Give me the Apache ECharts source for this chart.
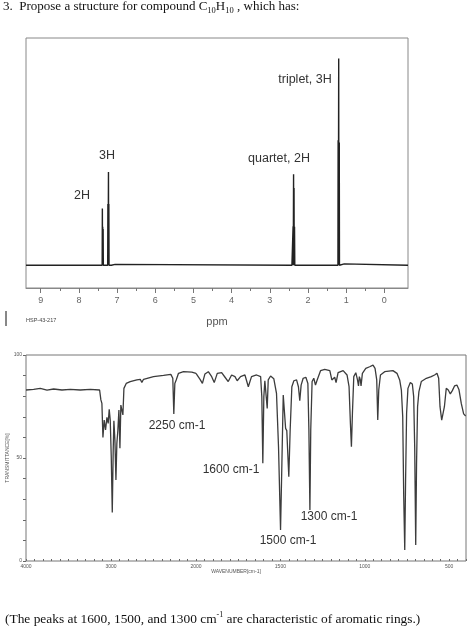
<!DOCTYPE html>
<html><head><meta charset="utf-8">
<script src="https://cdn.jsdelivr.net/npm/echarts@6/dist/echarts.min.js"></script>
<style>html,body{margin:0;padding:0;background:#fff}#c{width:474px;height:640px}</style>
</head><body><div id="c"></div>
<script>
// ---------- 1H NMR data ----------
const nmrPpm = [9.385, 7.45, 7.39, 7.385, 7.38, 7.375, 7.37, 7.365, 7.36, 7.33, 7.30, 7.245, 7.24, 7.235, 7.225, 7.22, 7.215, 7.21, 7.18, 7.15, 7.05, 7.0,
  2.42, 2.395, 2.39, 2.385, 2.377, 2.372, 2.365, 2.36, 2.352, 2.345, 2.30, 1.40, 1.38, 1.36, 1.215, 1.21, 1.205, 1.195, 1.19, 1.18, 1.175, 1.05, 1.0, -0.62];
const nmrIntensity = [0, 0, 0, 25, 0, 17, 0, 16, 0, 0.8, 0, 0, 27, 0, 41, 0, 27, 0, 0.7, 0, 0.4, 0,
  0, 0, 17, 0, 40, 0, 34, 0, 17, 0, 0, 0, 0.8, 0, 0, 55, 0, 91, 0, 54, 0, 0.6, 0, 0];
const nmrTicks = [9, 8, 7, 6, 5, 4, 3, 2, 1, 0];
const nmrMinorTicks = [8.5, 7.5, 6.5, 5.5, 4.5, 3.5, 2.5, 1.5, 0.5];

// ---------- IR data ----------
const irWavenumber = [4000, 3910, 3832, 3753, 3675, 3577, 3479, 3362, 3244, 3134, 3119, 3107, 3095, 3080, 3064, 3048, 3033, 3021, 3009, 2997, 2985, 2974, 2966, 2954, 2942, 2931, 2919, 2907, 2895, 2884, 2872, 2860, 2848, 2821, 2774, 2696, 2656, 2637, 2617, 2500, 2382, 2296, 2273, 2261, 2249, 2233, 2206, 2147, 2049, 2000,
  1976, 1962, 1947, 1927, 1907, 1892, 1874, 1848, 1828, 1809, 1789, 1769, 1756, 1736, 1710, 1690, 1671, 1641, 1617, 1610, 1604, 1598, 1592, 1584, 1578, 1572, 1558, 1539, 1523, 1511, 1499, 1491, 1483, 1477, 1469, 1462, 1456, 1450, 1442, 1432, 1420, 1404, 1393, 1385, 1377, 1365, 1349, 1337, 1331, 1325, 1320, 1312, 1302, 1292, 1282, 1262, 1237, 1207, 1195, 1187, 1178, 1170, 1158, 1128, 1105, 1093, 1085, 1079, 1073, 1065, 1053, 1043, 1037, 1032, 1026, 1022, 1014, 994, 971, 951, 939, 929, 923, 917, 907, 882, 833, 809, 793, 783, 775, 769, 763, 758, 752, 744, 730, 718, 710, 704, 698, 693, 687, 679, 665, 635, 606, 586, 572, 562, 554, 544, 536, 528, 517, 505, 493, 481, 468, 454, 442, 428, 414, 402];
const irTransmittance = [83.0, 83.3, 83.8, 83.0, 83.5, 83.0, 83.3, 83.0, 83.3, 83.0, 78.2, 76.5, 60.0, 68.4, 63.6, 69.7, 66.8, 73.6, 68.4, 50.6, 23.5, 53.9, 68.1, 58.7, 39.3, 57.1, 63.6, 73.3, 54.7, 75.7, 76.2, 70.9, 83.8, 86.2, 87.1, 87.9, 88.2, 86.7, 88.2, 89.5, 90.1, 90.6, 88.7, 71.4, 86.2, 87.9, 91.1, 91.9, 91.7, 91.1,
  88.2, 86.2, 90.8, 91.9, 89.5, 86.6, 91.1, 91.4, 89.2, 87.1, 90.3, 89.5, 87.5, 89.5, 90.3, 84.6, 89.5, 90.3, 89.5, 79.8, 47.4, 79.8, 87.5, 87.9, 74.1, 87.9, 89.8, 88.5, 81.4, 55.5, 15.0, 47.4, 80.6, 81.4, 64.4, 63.3, 63.6, 40.9, 63.6, 84.6, 87.5, 87.9, 84.6, 77.8, 85.4, 88.7, 89.2, 86.2, 63.6, 24.8, 63.6, 87.1, 88.7, 85.4, 87.9, 92.4, 93.0, 92.4, 87.9, 88.7, 89.2, 86.6, 91.4, 92.4, 90.3, 84.6, 66.8, 55.5, 71.7, 89.5, 91.4, 87.9, 85.0, 89.5, 87.9, 85.0, 91.1, 93.5, 94.3, 95.1, 93.5, 87.9, 68.4, 83.0, 90.3, 91.9, 92.4, 91.1, 87.9, 83.0, 70.1, 31.2, 5.3, 39.3, 71.7, 83.8, 86.6, 85.9, 79.8, 55.5, 7.8, 47.4, 74.9, 82.2, 87.1, 88.7, 89.5, 90.3, 91.1, 88.7, 74.9, 68.4, 69.3, 74.9, 83.8, 83.0, 81.1, 82.7, 85.0, 85.4, 83.3, 76.5, 71.4, 70.4];
const irHighTicks = [4000, 3900, 3800, 3700, 3600, 3500, 3400, 3300, 3200, 3100, 3000, 2900, 2800, 2700, 2600, 2500, 2400, 2300, 2200, 2100, 2000];
const irHighLabels = [4000, 3000, 2000];
const irLowTicks = [2000, 1950, 1900, 1850, 1800, 1750, 1700, 1650, 1600, 1550, 1500, 1450, 1400, 1350, 1300, 1250, 1200, 1150, 1100, 1050, 1000, 950, 900, 850, 800, 750, 700, 650, 600, 550, 500, 450, 400];
const irLowLabels = [1500, 1000, 500];
const irYLabels = [0, 50, 100];

// build series data
const nmrData = nmrPpm.map((p, i) => [p, nmrIntensity[i]]);
const irHigh = [], irLow = [];
irWavenumber.forEach((w, i) => {
  if (w >= 2000) irHigh.push([w, irTransmittance[i]]);
  if (w <= 2000) irLow.push([w, irTransmittance[i]]);
});

const chart = echarts.init(document.getElementById('c'), null, {renderer: 'canvas'});
const sans = '"Liberation Sans", Arial, sans-serif';
const serif = '"Liberation Serif", "Times New Roman", serif';
const plain = v => String(v);
const tinyLabel = {fontSize: 5, color: '#555', fontFamily: sans, formatter: plain};

chart.setOption({
  backgroundColor: '#fff',
  animation: false,
  title: [
    {
      left: 3, top: -1, padding: 0,
      text: '{a|3.  Propose a structure for compound C}{s|10}{a|H}{s|10}{a| , which has:}',
      textStyle: {
        fontWeight: 'normal',
        rich: {
          a: {fontFamily: serif, fontSize: 13, fontWeight: 'normal', color: '#111', lineHeight: 16},
          s: {fontFamily: serif, fontSize: 8.5, fontWeight: 'normal', color: '#111', lineHeight: 10, verticalAlign: 'bottom'}
        }
      }
    },
    {
      left: 5, top: 611, padding: 0,
      text: '{a|(The peaks at 1600, 1500, and 1300 cm}{p|-1}{a| are characteristic of aromatic rings.)}',
      textStyle: {
        fontWeight: 'normal',
        rich: {
          a: {fontFamily: serif, fontSize: 13.4, fontWeight: 'normal', color: '#111', lineHeight: 16},
          p: {fontFamily: serif, fontSize: 8, fontWeight: 'normal', color: '#111', lineHeight: 10, verticalAlign: 'top'}
        }
      }
    }
  ],
  grid: [
    {left: 26, top: 355, width: 170, height: 206, show: false},
    {left: 196, top: 355, width: 270, height: 206, show: false},
    {left: 26, top: 38, width: 382, height: 250, show: true, borderColor: '#888', borderWidth: 1, backgroundColor: 'transparent'}
  ],
  xAxis: [
    {
      type: 'value', gridIndex: 0, min: 2000, max: 4000, inverse: true, position: 'bottom',
      axisLine: {show: false, onZero: false},
      axisTick: {show: true, inside: true, length: 2, customValues: irHighTicks, lineStyle: {color: '#666'}},
      axisLabel: {show: true, customValues: irHighLabels, margin: 3, ...tinyLabel},
      splitLine: {show: false}
    },
    {
      type: 'value', gridIndex: 1, min: 400, max: 2000, inverse: true, position: 'bottom',
      axisLine: {show: false, onZero: false},
      axisTick: {show: true, inside: true, length: 2, customValues: irLowTicks, lineStyle: {color: '#666'}},
      axisLabel: {show: true, customValues: irLowLabels, margin: 3, ...tinyLabel},
      splitLine: {show: false}
    },
    {
      type: 'value', gridIndex: 2, min: -0.62, max: 9.385, inverse: true, position: 'bottom',
      axisLine: {show: true, onZero: false, lineStyle: {color: '#888'}},
      axisTick: {show: true, inside: false, length: 5, customValues: nmrTicks, lineStyle: {color: '#777'}},
      axisLabel: {show: true, customValues: nmrTicks, margin: 8, fontSize: 9, color: '#666', fontFamily: sans, formatter: plain},
      splitLine: {show: false},
      name: 'ppm', nameLocation: 'middle', nameGap: 28,
      nameTextStyle: {fontSize: 11, color: '#555', fontFamily: sans}
    },
    {
      type: 'value', gridIndex: 2, min: -0.62, max: 9.385, inverse: true, position: 'bottom',
      axisLine: {show: false, onZero: false},
      axisTick: {show: true, inside: false, length: 3, customValues: nmrMinorTicks, lineStyle: {color: '#777'}},
      axisLabel: {show: false},
      splitLine: {show: false}
    }
  ],
  yAxis: [
    {
      type: 'value', gridIndex: 0, min: 0, max: 100, interval: 10, position: 'left',
      axisLine: {show: false, onZero: false},
      axisTick: {show: true, inside: false, length: 3, lineStyle: {color: '#666'}},
      axisLabel: {show: true, customValues: irYLabels, margin: 4, ...tinyLabel},
      splitLine: {show: false},
      name: 'TRANSMITTANCE[%]', nameLocation: 'middle', nameGap: 16, nameRotate: 90,
      nameTextStyle: {fontSize: 5, color: '#555', fontFamily: sans}
    },
    {type: 'value', gridIndex: 1, min: 0, max: 100, show: false},
    {type: 'value', gridIndex: 2, min: -10, max: 100, show: false}
  ],
  graphic: [
    {type: 'rect', shape: {x: 26, y: 355, width: 440, height: 206}, style: {fill: 'none', stroke: '#777', lineWidth: 1}, z: 1},
    {type: 'text', x: 236, y: 572, style: {text: 'WAVENUMBER[cm-1]', font: '5px ' + sans, fill: '#555', align: 'center', verticalAlign: 'middle'}},
    {type: 'text', x: 26, y: 320, style: {text: 'HSP-43-217', font: '5.5px ' + sans, fill: '#444', align: 'left', verticalAlign: 'middle'}},
    {type: 'line', shape: {x1: 6, y1: 311, x2: 6, y2: 326}, style: {stroke: '#111', lineWidth: 1}},
    {type: 'text', x: 305, y: 80, style: {text: 'triplet, 3H', font: '12.5px ' + sans, fill: '#333', align: 'center', verticalAlign: 'middle'}},
    {type: 'text', x: 107, y: 156, style: {text: '3H', font: '12.5px ' + sans, fill: '#333', align: 'center', verticalAlign: 'middle'}},
    {type: 'text', x: 82, y: 196, style: {text: '2H', font: '12.5px ' + sans, fill: '#333', align: 'center', verticalAlign: 'middle'}},
    {type: 'text', x: 279, y: 159, style: {text: 'quartet, 2H', font: '12.5px ' + sans, fill: '#333', align: 'center', verticalAlign: 'middle'}},
    {type: 'text', x: 177, y: 426, style: {text: '2250 cm-1', font: '12px ' + sans, fill: '#333', align: 'center', verticalAlign: 'middle'}},
    {type: 'text', x: 231, y: 470, style: {text: '1600 cm-1', font: '12px ' + sans, fill: '#333', align: 'center', verticalAlign: 'middle'}},
    {type: 'text', x: 288, y: 541, style: {text: '1500 cm-1', font: '12px ' + sans, fill: '#333', align: 'center', verticalAlign: 'middle'}},
    {type: 'text', x: 329, y: 517, style: {text: '1300 cm-1', font: '12px ' + sans, fill: '#333', align: 'center', verticalAlign: 'middle'}}
  ],
  series: [
    {type: 'line', xAxisIndex: 0, yAxisIndex: 0, data: irHigh, symbol: 'none', lineStyle: {color: '#3c3c3c', width: 1.3}, z: 3},
    {type: 'line', xAxisIndex: 1, yAxisIndex: 1, data: irLow, symbol: 'none', lineStyle: {color: '#3c3c3c', width: 1.3}, z: 3},
    {type: 'line', xAxisIndex: 2, yAxisIndex: 2, data: nmrData, symbol: 'none', lineStyle: {color: '#222', width: 1.4}, z: 3}
  ]
});
</script></body></html>
